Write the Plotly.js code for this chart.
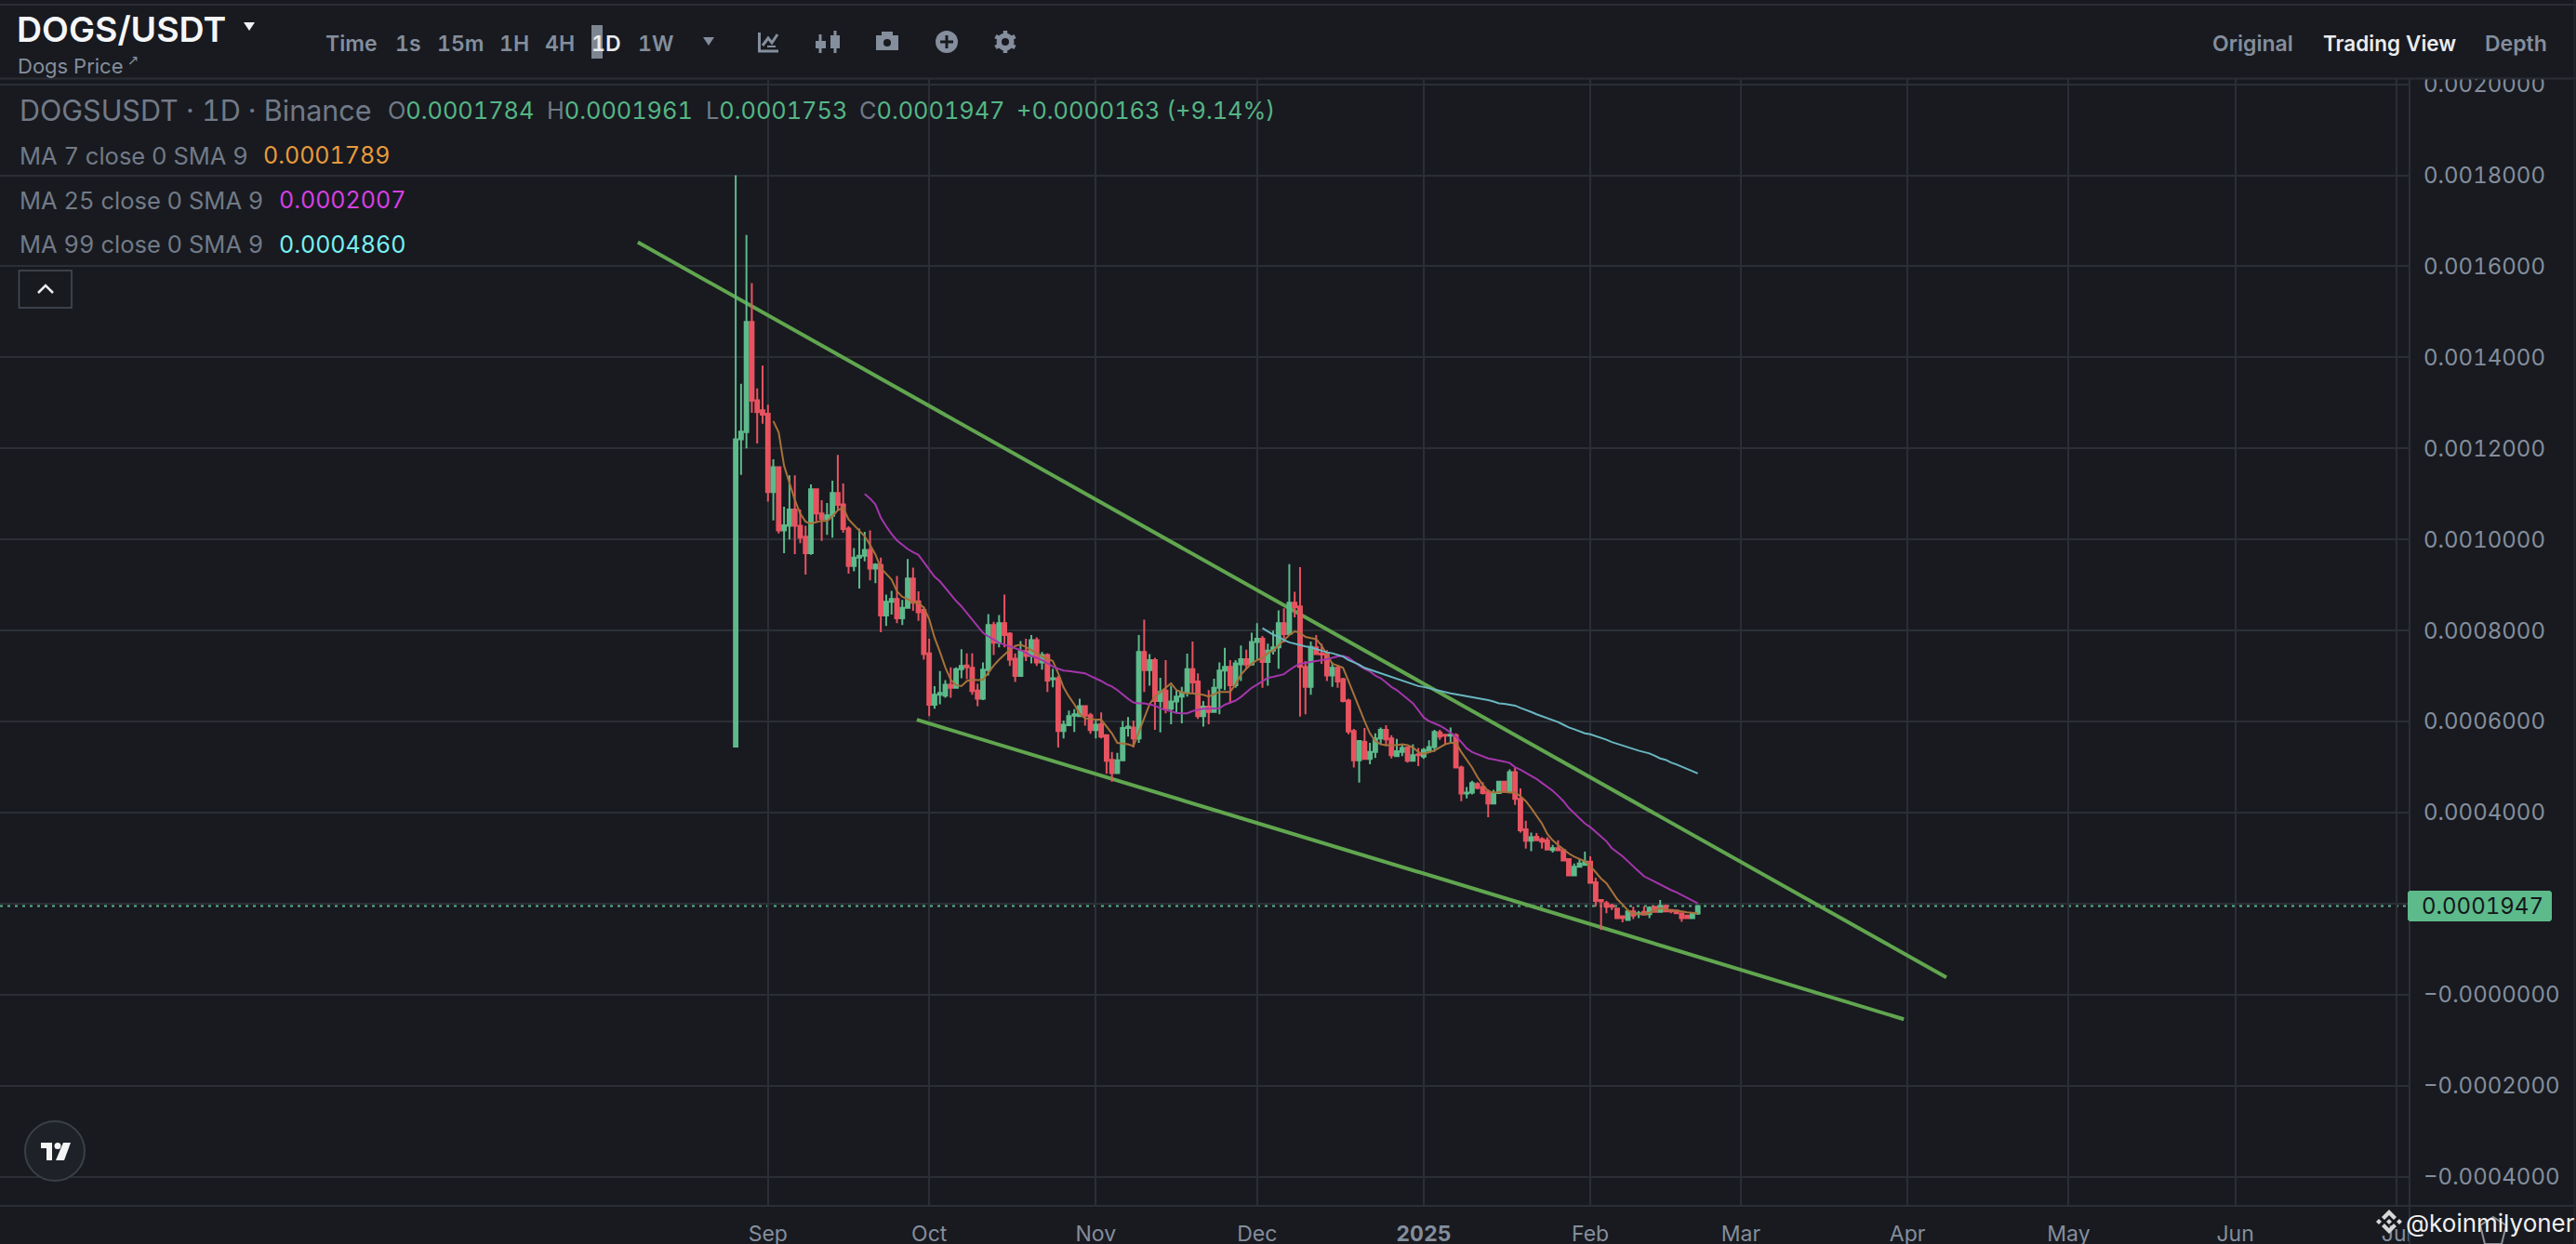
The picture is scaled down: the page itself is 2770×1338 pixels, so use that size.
<!DOCTYPE html>
<html><head><meta charset="utf-8">
<script src="https://cdn.plot.ly/plotly-3.0.1.min.js"></script>
<style>html,body{margin:0;padding:0;background:#181a20;overflow:hidden}#c{width:2770px;height:1338px}#c text{font-variant-numeric:tabular-nums;font-feature-settings:"tnum" 1}</style>
</head><body><div id="c"></div>
<script>
const firstDay = '2024-08-26';
const open = [.000545,.00122,.001236,.001478,.001306,.001284,.001276,.001104,.001159,.00102,.00103,.001066,.00103,.001006,.00097,.00111,.001057,.001045,.001052,.001102,.001077,
.001024,.000942,.00096,.000964,.000977,.000936,.000944,.000833,.000863,.000869,.000827,.00085,.000914,.000864,.000845,.00075,.000637,.000659,.000657,.000681,.000674,.000715,.000723,.000718,.000668,.00065,.000713,.000812,.000773,.000816,.000793,.000738,.0007,.000755,.000744,.000779,.00073,.000746,.000693,.000695,.000579,.000592,.000613,.000612,.000634,.000614,.000581,
.000594,.00057,.000516,.000487,.000515,.000586,.000587,.000563,.000753,.000713,.000735,.000645,.000668,.000628,.000644,.000655,.000664,.000715,.000688,.000612,.000633,.000621,.000674,.000712,.00072,.00068,.000726,.000737,.000725,.000775,.000782,.000731,.000756,.000763,.000816,.000792,.000861,.000853,.00072,.000676,.000763,.00075,.000748,.000701,.000718,.000693,.000646,.000579,.000515,.000555,.000518,.000533,.000563,.000582,.000563,.000524,.000533,.000543,.000514,.000528,.000523,.000536,.000544,.000576,.000571,.000569,.00057,.000499,.000442,.000444,.000463,.000456,.000446,.00042,.000443,.000468,.000446,.000489,
.00043,.000363,.000338,.000347,.000342,.000339,.000318,.000322,.000318,.000298,.000262,.000281,.000285,.000292,.000247,.000208,.000201,.000196,.000189,.000172,.000164,.000183,.000177,.000182,.000177,.000193,.000182,.000195,.000186,.000185,.000179,.000174,.000168,.0001784];
const high = [.0018,.001342,.001669,.001563,.001332,.001382,.001296,.001176,.001159,.001072,.001141,.001141,.001066,.00103,.001121,.00111,.001086,.00108,.001129,.001186,.001123,
.001029,.000981,.001024,.001017,.00102,.000948,.00096,.000879,.000887,.00092,.000867,.000957,.000938,.000886,.000853,.000782,.000678,.000711,.000691,.000719,.000719,.000759,.00075,.00075,.000683,.00073,.000836,.000819,.000834,.000879,.000796,.00075,.000777,.000782,.00079,.000785,.000753,.00075,.000716,.0007,.000602,.000624,.000627,.00065,.000634,.000619,.000604,
.00062,.000572,.000533,.000531,.000601,.00061,.000602,.00079,.000824,.000748,.00074,.000696,.000735,.000679,.000669,.000676,.000749,.000776,.000706,.000645,.000669,.000694,.00073,.000762,.000735,.000735,.000767,.000758,.000795,.000816,.000788,.000771,.0008,.000844,.000849,.000946,.000885,.000939,.000733,.000776,.00079,.000771,.000757,.00073,.000723,.000696,.00065,.000584,.000559,.000586,.000553,.000574,.000587,.000592,.00057,.000562,.00055,.000543,.00055,.000542,.000542,.000559,.000582,.000582,.000573,.000587,.000574,.000503,.000456,.00047,.000467,.000467,.000451,.00045,.00047,.00047,.000495,.0005,
.000453,.000382,.000356,.000355,.000346,.000346,.000329,.000339,.000319,.000298,.000288,.000298,.000314,.000304,.000257,.00021,.000206,.0002,.00019,.000173,.000186,.000193,.000184,.000194,.000194,.000194,.000208,.000198,.000187,.000186,.00018,.000176,.000179,.0001961];
const low = [.000545,.001142,.0012,.001278,.001211,.001254,.001083,.001042,.001013,.00097,.001,.000968,.000992,.000923,.000966,.00104,.000997,.00101,.001004,.001064,.001015,
.000925,.00093,.000892,.000952,.00091,.000904,.000796,.00081,.000835,.000816,.000812,.00085,.000843,.000821,.000736,.000612,.000628,.000638,.000652,.000652,.000672,.000695,.000693,.000659,.000634,.000647,.000701,.000746,.000763,.000763,.000722,.000687,.0007,.000733,.000728,.000722,.000714,.000665,.000675,.000543,.000563,.000592,.000577,.000612,.000591,.000573,.000563,
.000563,.000485,.000468,.000487,.000515,.000567,.000543,.000553,.000665,.000679,.000582,.000576,.000618,.000594,.000618,.000596,.000655,.000662,.000606,.000589,.000594,.000621,.000616,.000669,.00064,.000674,.000689,.000716,.000725,.000737,.000674,.000679,.000747,.000716,.000774,.000792,.000829,.000611,.000616,.000659,.000748,.000727,.000689,.000676,.000674,.000642,.000572,.000499,.000466,.000518,.000506,.00052,.00055,.000546,.000519,.000524,.000524,.00051,.000514,.000502,.000518,.000536,.000534,.00056,.00055,.000553,.000499,.000425,.000431,.00044,.000451,.00044,.00039,.00042,.000443,.000446,.000446,.000417,
.000356,.000321,.000315,.000339,.000321,.000317,.000312,.000317,.000293,.00026,.000262,.000281,.000283,.000246,.000193,.000142,.000179,.000186,.000167,.000159,.000164,.000166,.000168,.000176,.000168,.000182,.000182,.000183,.000179,.000179,.00016,.000168,.000168,.0001753];
const close = [.00122,.001237,.001478,.001305,.00128,.001274,.001104,.001159,.00102,.001031,.001066,.00103,.001004,.00097,.00111,.001057,.001045,.001053,.001102,.001076,.001023,
.000942,.00096,.000964,.000977,.000936,.000945,.000833,.000863,.000869,.000827,.00085,.000914,.000861,.00084,.000748,.000637,.000659,.000663,.000681,.000674,.000715,.000722,.000719,.000667,.00065,.000714,.000812,.000773,.000816,.00079,.000736,.0007,.000755,.000744,.000779,.00073,.000746,.00069,.000695,.000579,.000593,.000612,.000616,.000634,.000613,.000581,.000593,
.000567,.000514,.000487,.000515,.000586,.000589,.000563,.000753,.000713,.000735,.000645,.000665,.000628,.000644,.000655,.000664,.000715,.000686,.000612,.000633,.000621,.000674,.000712,.00072,.00068,.000728,.000737,.000725,.000775,.000782,.000731,.000756,.000763,.000816,.000792,.000861,.000851,.00072,.000676,.000764,.000748,.000747,.000701,.000718,.000688,.000645,.000578,.000515,.000557,.000518,.000533,.000563,.000582,.000561,.000526,.000535,.000542,.000514,.000526,.000526,.000538,.000544,.000577,.000567,.000569,.000571,.000499,.000442,.000444,.000465,.000454,.000443,.00042,.000443,.000468,.000446,.000489,.00043,
.000361,.000338,.000346,.000339,.000336,.000319,.000322,.000317,.000295,.000262,.000281,.000288,.000292,.000246,.000206,.000205,.000193,.000193,.000168,.000168,.000183,.000174,.000179,.000176,.000191,.000182,.000195,.000183,.000183,.000179,.000168,.000168,.000178,.0001947];

const ma7Start = 7;
const ma7 = [.00126,.001235,.001162,.001125,.001087,.001057,.001039,.001035,.001038,.001041,.001041,.001051,.001064,.00107,
.001044,.001031,.001018,.001007,.000988,.000967,.000937,.000925,.000912,.000886,.000874,.000869,.000862,.000861,.00085,.000825,.000784,.000753,.000719,.000692,.00068,.000678,.000689,.000692,.000691,.000692,.000708,.000723,.000736,.000748,.000758,.000766,.000769,.000764,.000757,.00075,.000743,.000738,.000733,.000706,.000675,.000655,.000638,.000617,.000607,.000606,.000604,
.000604,.00059,.000574,.000553,.000552,.00055,.000546,.000577,.000611,.000638,.000655,.000665,.000676,.000684,.000669,.000664,.000662,.000662,.00066,.000659,.000655,.00066,.000665,.000665,.000665,.000682,.000703,.000716,.000727,.000735,.00074,.00075,.000756,.000767,.000778,.00079,.000798,.000795,.000786,.000784,.000781,.000767,.000747,.000727,.000723,.000718,.000689,.000659,.000628,.000601,.000574,.000557,.00055,.000548,.000548,.000548,.00055,.000548,.000543,.000533,.000529,.000533,.000536,.000543,.00055,.000553,.000553,.000533,.000516,.000499,.000478,.000461,.000447,.000444,.000445,.000446,.000444,.000444,.000436,
.000425,.00041,.000393,.000376,.000353,.000339,.000329,.000319,.00031,.000303,.000298,.000293,.000283,.000268,.000255,.000245,.000227,.00021,.000198,.000185,.000179,.000177,.000178,.00018,.000185,.00019,.000187,.000186,.000185,.000183,.000181,.00018,.0001789];
const ma25Start = 24;
const ma25 = [.0011,.00109,.001077,.001048,.001029,.001012,.000998,.000988,.000979,.000972,.000966,.00095,.000933,.000918,.000908,.000893,.000878,.000865,.000853,.000838,.000825,.000808,.000795,.000787,.00078,.000773,.000769,.000765,.00076,.000757,.000751,.000744,.00074,.000735,.000728,.000721,.000716,.000712,.000711,.000709,.000708,.000706,.0007,.000695,
.000689,.000682,.000677,.000669,.000659,.00065,.000642,.00064,.00064,.000638,.000635,.000629,.000626,.000623,.000619,.000618,.000618,.000623,.000626,.000628,.000628,.000628,.000629,.000637,.000642,.000646,.000654,.000664,.000674,.000681,.000688,.000696,.000698,.000701,.000704,.000713,.000721,.000727,.000729,.00073,.000732,.000735,.000737,.00074,.000743,.000744,.00074,.000732,.000723,.000716,.00071,.000701,.000695,.000686,.000676,.000669,.000659,.00065,.00064,.000625,.000609,.000601,.000596,.000591,.000584,.000575,.000567,.000555,.000541,.000533,.000528,.000524,.000519,.000517,.000515,.000512,.000509,.0005,.000494,.000487,.00048,.000474,.000465,.000457,.000448,.000437,.000425,.00041,.000399,.000387,.000376,.000368,.000358,.000349,.000337,.000322,.000313,.000304,.000293,.000281,.000271,.00026,.000254,.000247,.000241,.000235,.00023,.000225,.000219,.000213,.000208,.0002007];
const ma99Start = 98;
const ma99 = [.000805,.000798,.000791,.000786,.000779,.000774,.000771,.000767,.000765,.000763,.000759,.000756,.000752,.00075,.000746,.000743,.000735,.00073,.000725,.000718,.000714,.00071,.000705,.000701,.000697,.000694,.000689,.000686,.000682,.000678,.000676,.000673,.00067,.000667,.000665,.000662,.00066,.000658,.000655,.000653,.000652,.000649,.000647,.000644,.00064,.000639,.000637,.000635,.00063,.000626,.000621,.000616,.000612,.000608,.000603,.000599,.000593,.000587,.000583,.000578,.000574,.000572,.000568,.000565,.00056,.000555,.000551,.000547,.000543,.00054,.000536,.000533,.00053,.000525,.000519,.000516,.00051,.000506,.000501,.000497,.000491,.000486];

const upperDates = ['2024-08-07 19:00','2025-04-08 06:00'];
const upperValues = [.001653,.000038];
const lowerDates = ['2024-09-28 17:00','2025-03-31 08:00'];
const lowerValues = [.000604,-.000054];

const xTickVals = ['2024-09-01','2024-10-01','2024-11-01','2024-12-01','2025-01-01','2025-02-01','2025-03-01','2025-04-01','2025-05-01','2025-06-01','2025-07-01'];
const xTickText = ['Sep','Oct','Nov','Dec','<b>2025</b>','Feb','Mar','Apr','May','Jun','Jul'];
const yTickVals = [.002,.0018,.0016,.0014,.0012,.001,.0008,.0006,.0004,.0002,0,-.0002,-.0004];
const yTickText = ['0.0020000','0.0018000','0.0016000','0.0014000','0.0012000','0.0010000','0.0008000','0.0006000','0.0004000','','\u22120.0000000','\u22120.0002000','\u22120.0004000'];
const lastPriceLabel = '0.0001947';
const lastPrice = .0001947;

const BG='#181a20', GRID='#2b2f35', GRAY='#848e9c', DIM='#727a87', UP='#5dba8b', DOWN='#e85360', TXTUP='#55b585';
const FONT='Inter, "Noto Sans", sans-serif';
const PW=2591, PT=85, PB=1297;
const px=x=>x/PW, py=y=>(PB-y)/(PB-PT);

const dates=[]; { const t0=Date.parse(firstDay+'T00:00:00Z'); for(let i=0;i<open.length;i++) dates.push(new Date(t0+i*864e5).toISOString().slice(0,10)); }

const traces=[
 {type:'scatter',mode:'lines',x:upperDates,y:upperValues,line:{color:'#61a64f',width:4},zorder:-1,hoverinfo:'skip',showlegend:false},
 {type:'scatter',mode:'lines',x:lowerDates,y:lowerValues,line:{color:'#61a64f',width:4},zorder:-1,hoverinfo:'skip',showlegend:false},
 {type:'candlestick',x:dates,open:open,high:high,low:low,close:close,
  increasing:{line:{color:UP,width:2},fillcolor:UP},decreasing:{line:{color:DOWN,width:2},fillcolor:DOWN},whiskerwidth:0,showlegend:false},
 {type:'scatter',mode:'lines',x:dates.slice(ma7Start),y:ma7,line:{color:'#a8713a',width:2},showlegend:false,name:'MA 7'},
 {type:'scatter',mode:'lines',x:dates.slice(ma25Start),y:ma25,line:{color:'#a535ab',width:2},showlegend:false,name:'MA 25'},
 {type:'scatter',mode:'lines',x:dates.slice(ma99Start),y:ma99,line:{color:'#69b7c0',width:2},showlegend:false,name:'MA 99'}
];

const S=[];
const rect=(x0,y0,x1,y1,fill,line)=>S.push({type:'rect',layer:'above',xref:'paper',yref:'paper',x0:px(x0),x1:px(x1),y0:py(y0),y1:py(y1),fillcolor:fill,line:line||{width:0}});
const seg=(x0,y0,x1,y1,c,w)=>S.push({type:'line',layer:'above',xref:'paper',yref:'paper',x0:px(x0),x1:px(x1),y0:py(y0),y1:py(y1),line:{color:c,width:w||2}});
const poly=(pts,fill,line,closed=true)=>S.push({type:'path',layer:'above',xref:'paper',yref:'paper',path:pts.map((p,i)=>(i?'L':'M')+px(p[0])+','+py(p[1])).join(' ')+(closed?' Z':''),fillcolor:fill||'rgba(0,0,0,0)',line:line||{width:0}});
const circ=(cx,cy,r,fill,line)=>S.push({type:'circle',layer:'above',xref:'paper',yref:'paper',x0:px(cx-r),x1:px(cx+r),y0:py(cy+r),y1:py(cy-r),fillcolor:fill,line:line||{width:0}});

// header band and frame
rect(0,0,2770,84,BG);
seg(0,5,2770,5,GRID,2); seg(0,84.5,2770,84.5,GRID,2);
seg(0,PB,2770,PB,GRID,2); seg(PW,85,PW,1338,GRID,2); seg(2768.5,0,2768.5,1338,'#24272c',2);
// toolbar glyphs
poly([[262,24],[274,24],[268,33]],'#f0f2f5');
rect(636,27,648,63,'#7d8590');
poly([[756,40],[768,40],[762,49]],GRAY);
poly([[816.5,35],[816.5,55],[837,55]],null,{color:GRAY,width:3},false);
poly([[820,49],[826,41],[830,46],[836,37]],null,{color:GRAY,width:3},false);
seg(825,50,834,50,GRAY,2);
seg(882,37,882,57,GRAY,3); rect(877,44,888,52,GRAY);
seg(898,33,898,57,GRAY,3); rect(893,38,903,52,GRAY);
rect(942,38,966,54,GRAY); rect(948,34,960,38,GRAY); circ(954,46,4,BG);
circ(1018,45,12,GRAY); seg(1011,45,1025,45,BG,3); seg(1018,38,1018,52,BG,3);
// gear icon
circ(1081,45,9.5,GRAY);
seg(1081,33,1081,57,GRAY,4.5); seg(1070.5,39,1091.5,51,GRAY,4.5); seg(1070.5,51,1091.5,39,GRAY,4.5);
circ(1081,45,4,BG);
// collapse button
S.push({type:'rect',layer:'above',xref:'paper',yref:'paper',x0:px(20.5),x1:px(77),y0:py(331),y1:py(291),fillcolor:BG,line:{color:'#474d57',width:1.5}});
poly([[41,315],[49,307],[57,315]],null,{color:'#eaecef',width:2.5},false);
// chart logo
circ(59,1238,32,'#1e2127',{color:'#3b4047',width:2});
poly([[44,1229],[56,1229],[56,1248],[50,1248],[50,1235],[44,1235]],'#f5f5f5');
circ(62,1232.5,3.5,'#f5f5f5');
poly([[68,1229],[76,1229],[69,1248],[60,1248]],'#f5f5f5');
// last price line
S.push({type:'line',layer:'below',xref:'x',yref:'y',x0:'2024-04-11 03:00',x1:'2025-07-03 10:00',y0:lastPrice,y1:lastPrice,line:{color:'#57b288',width:2,dash:'3px,5px'}});
poly([[2591,958],[2742,958],[2744,960],[2744,989],[2742,991],[2591,991],[2589,989],[2589,960]],UP);
// watermark logo and clipped gear
poly([[2681,1309],[2695,1318],[2690,1338],[2672,1338],[2667,1318]],null,{color:'#8a8f96',width:2});
const W='#d8d8d8';
poly([[2569,1301],[2577,1309],[2574,1312],[2569,1307],[2564,1312],[2561,1309]],W);
poly([[2569,1327],[2577,1319],[2574,1316],[2569,1321],[2564,1316],[2561,1319]],W);
poly([[2569,1311],[2572,1314],[2569,1317],[2566,1314]],W);
poly([[2558,1311],[2561,1314],[2558,1317],[2555,1314]],W);
poly([[2580,1311],[2583,1314],[2580,1317],[2577,1314]],W);

const A=[];
const T=(text,x,y,size,color,weight,family)=>A.push({text,xref:'paper',yref:'paper',x:px(x),y:py(y),xanchor:'left',yanchor:'middle',showarrow:false,borderpad:0,align:'left',font:{family:family||FONT,size,color,weight:weight||400}});
const UPS=s=>'<span style="color:'+TXTUP+'">'+s+'</span>';

T('Dogs Price',18,71,22,GRAY);
T('\u2197',136,65,15,GRAY,400,'DejaVu Sans');
[['Time',349],['1s',424],['15m',469],['1H',536],['4H',585],['1W',685]].forEach(d=>T(d[0],d[1],47,23,GRAY,600));
T('1D',635,47,23,'#eaecef',600);
T('Original',2378,47,23,GRAY,600);
T('Trading View',2497,47,22.5,'#eaecef',600);
T('Depth',2671,47,23,GRAY,600);

T('DOGSUSDT \u00b7 1D \u00b7 Binance',20,119,30.5,DIM);
T('O'+UPS('0.0001784'),416,119,25.3,DIM);
T('H'+UPS('0.0001961'),587,119,25.3,DIM);
T('L'+UPS('0.0001753'),758,119,25.3,DIM);
T('C'+UPS('0.0001947'),923,119,25.3,DIM);
T(UPS('+0.0000163 (+9.14%)'),1092,119,25.3,TXTUP);
T('MA 7 close 0 SMA 9',20,167,25.5,DIM);   T('0.0001789',282,167,25,'#e89a3c');
T('MA 25 close 0 SMA 9',20,215,25.5,DIM);  T('0.0002007',299,215,25,'#d63fe0');
T('MA 99 close 0 SMA 9',20,263,25.5,DIM);  T('0.0004860',299,263,25,'#78f0f0');
T(lastPriceLabel,2603,974.5,24,'#14161a');
T('@koinmilyoner',2586,1315,26,'#f0f0f0');

const layout={
 width:2770,height:1338,paper_bgcolor:BG,plot_bgcolor:BG,showlegend:false,
 margin:{l:0,r:179,t:85,b:41,pad:0},boxgap:.33,boxgroupgap:0,
 title:{text:'DOGS/USDT',x:18/2770,y:1-32/1338,xref:'container',yref:'container',xanchor:'left',yanchor:'middle',font:{family:FONT,size:37.5,color:'#f5f6f8',weight:600}},
 xaxis:{type:'date',range:['2024-04-11 03:00','2025-07-03 10:00'],rangeslider:{visible:false},tickmode:'array',tickvals:xTickVals,ticktext:xTickText,
  gridcolor:GRID,gridwidth:2,showline:false,zeroline:false,ticks:'',ticklabelstandoff:14,tickfont:{family:FONT,size:23,color:GRAY},tickangle:0,automargin:false},
 yaxis:{side:'right',range:[-.000464,.0020115],tickmode:'array',tickvals:yTickVals,ticktext:yTickText,
  gridcolor:GRID,gridwidth:2,showline:false,zeroline:false,ticks:'',ticklabelstandoff:14,tickfont:{family:FONT,size:24,color:GRAY},automargin:false},
 shapes:S,annotations:A,hovermode:false
};
Plotly.newPlot('c',traces,layout,{displayModeBar:false,staticPlot:true});
</script></body></html>
